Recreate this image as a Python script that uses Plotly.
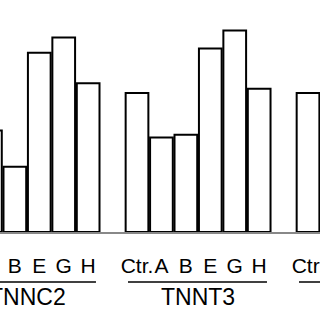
import plotly.graph_objects as go

groups = ["TNNC2", "TNNT3", "TNNI2"]
samples = ["Ctr.", "A", "B", "E", "G", "H"]
tnnc2 = [1.00, 0.73, 0.47, 1.29, 1.40, 1.07]
tnnt3 = [1.00, 0.68, 0.70, 1.32, 1.45, 1.03]
third = [1.00, 0.70, 0.70, 1.30, 1.40, 1.05]
series = [tnnc2, tnnt3, third]

slot = 7  # six bars plus one empty slot per group

xs, ys, tv, tt = [], [], [], []
for g, vals in enumerate(series):
    for s, v in enumerate(vals):
        xs.append(g * slot + s)
        ys.append(v)
        tv.append(g * slot + s)
        tt.append(samples[s])

fig = go.Figure(go.Bar(
    x=xs, y=ys, width=0.93,
    marker=dict(color="white", line=dict(color="black", width=2)),
))

shapes = []
annotations = []
for g, name in enumerate(groups):
    shapes.append(dict(type="line", xref="x", yref="paper",
                       x0=g * slot - 0.37, x1=g * slot + 5.32,
                       y0=-0.2155, y1=-0.2155,
                       line=dict(color="black", width=1.5)))
    annotations.append(dict(x=g * slot + 2.5, y=-0.282, xref="x", yref="paper",
                            text=name, showarrow=False,
                            font=dict(size=23, color="black", family="Liberation Sans, Arial"),
                            xanchor="center", yanchor="middle"))

fig.update_layout(
    width=320, height=320,
    margin=dict(l=0, r=0, t=0, b=88, autoexpand=False),
    paper_bgcolor="white", plot_bgcolor="white",
    showlegend=False,
    shapes=shapes, annotations=annotations,
    xaxis=dict(range=[1.392, 14.49], tickvals=tv, ticktext=tt,
               showgrid=False, zeroline=False, showline=True,
               linecolor="#888888", linewidth=1.5, ticks="",
               automargin=False,
               tickangle=0, ticklabelstandoff=14, ticklabeloverflow="allow",
               tickfont=dict(size=21, color="black", family="Liberation Sans, Arial")),
    yaxis=dict(range=[0, 1.669], visible=False, automargin=False),
)

fig.write_html("out.html")
